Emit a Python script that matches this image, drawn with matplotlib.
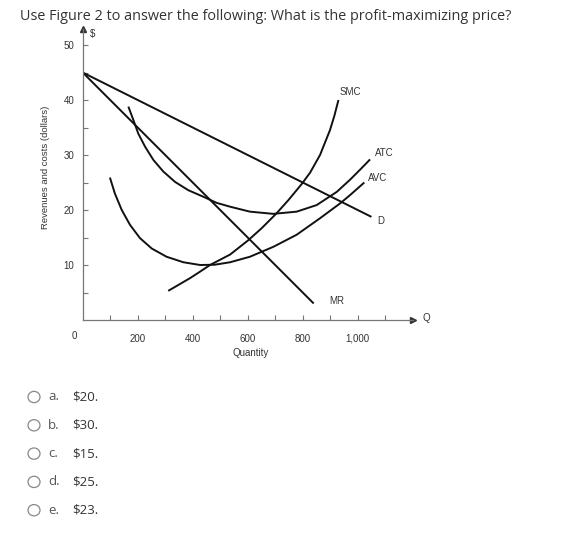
import matplotlib
matplotlib.use("Agg")
import matplotlib.pyplot as plt
from matplotlib.patches import Circle

W, H = 570, 535

# values (quantity, dollars)
d_q = [0, 1050]
d_p = [45, 18.75]

mr_q = [0, 840]
mr_p = [45, 3]

smc_q = [311, 390, 427, 463, 536, 602, 651, 705, 748, 796, 827, 863, 899, 915, 930]
smc_p = [5.3, 7.6, 8.8, 10.0, 11.9, 14.5, 16.7, 19.4, 21.8, 24.7, 26.8, 30.0, 34.5, 37.1, 40.0]

atc_q = [166, 184, 202, 227, 257, 293, 336, 384, 439, 487, 536, 608, 693, 778, 851, 924, 972, 1010, 1045]
atc_p = [38.8, 36.4, 33.9, 31.5, 29.1, 27.0, 25.1, 23.6, 22.4, 21.3, 20.6, 19.7, 19.3, 19.7, 20.9, 23.3, 25.5, 27.4, 29.2]

avc_q = [99, 117, 142, 172, 208, 251, 305, 366, 427, 480, 536, 608, 693, 778, 863, 936, 972, 1024]
avc_p = [25.9, 23.0, 20.0, 17.3, 14.9, 13.0, 11.5, 10.5, 10.0, 10.05, 10.5, 11.5, 13.3, 15.5, 18.5, 21.2, 22.7, 25.0]

x_ticks = [200, 400, 600, 800, 1000]
x_labels = ["200", "400", "600", "800", "1,000"]
y_ticks = [10, 20, 30, 40, 50]

question = "Use Figure 2 to answer the following: What is the profit-maximizing price?"
letters = ["a.", "b.", "c.", "d.", "e."]
answers = ["$20.", "$30.", "$15.", "$25.", "$23."]


def fx(x):
    return x / W


def fy(y):
    return 1 - y / H


fig = plt.figure(figsize=(W / 100, H / 100), dpi=100)
ax = fig.add_axes([fx(82.7), fy(320), 330 / W, 291.5 / H])
ax.set_xlim(0, 1200)
ax.set_ylim(0, 53)

line_kw = dict(color="#111111", lw=1.4, solid_capstyle="butt", solid_joinstyle="round")
ax.plot(d_q, d_p, **line_kw)
ax.plot(mr_q, mr_p, **line_kw)
ax.plot(smc_q, smc_p, **line_kw)
ax.plot(atc_q, atc_p, **line_kw)
ax.plot(avc_q, avc_p, **line_kw)

for s in ["top", "right"]:
    ax.spines[s].set_visible(False)
for s in ["left", "bottom"]:
    ax.spines[s].set_color("#777777")
    ax.spines[s].set_linewidth(0.9)

# arrow heads on the axes
ax.plot([1200], [0], marker=">", ms=4, color="#333333", clip_on=False)
ax.plot([0], [53], marker="^", ms=4, color="#333333", clip_on=False)

ax.set_xticks(x_ticks)
ax.set_xticklabels(x_labels)
ax.set_xticks(range(100, 1200, 100), minor=True)
ax.set_yticks(y_ticks)
ax.set_yticks(range(5, 50, 5), minor=True)
ax.tick_params(which="both", direction="in", length=3.5, width=0.8, color="#777777")
ax.tick_params(axis="x", pad=10, labelsize=7, labelcolor="#333333")
ax.tick_params(axis="y", pad=6, labelsize=7, labelcolor="#333333")
for lab in ax.get_xticklabels() + ax.get_yticklabels():
    lab.set_family("Liberation Sans")

sans = "Liberation Sans"
fs = 7
fig.text(fx(74), fy(336), "0", fontsize=fs, color="#333333", family=sans, ha="center", va="center")
fig.text(fx(251), fy(353), "Quantity", fontsize=fs, color="#333333", family=sans, ha="center", va="center")
fig.text(fx(45), fy(167), "Revenues and costs (dollars)", fontsize=6.8, color="#333333",
         family=sans, ha="center", va="center", rotation=90)
fig.text(fx(93), fy(34), "$", fontsize=fs, color="#333333", family=sans, ha="center", va="center")
fig.text(fx(426), fy(318), "Q", fontsize=fs, color="#333333", family=sans, ha="center", va="center")

curve_labels = [("SMC", 350, 92), ("ATC", 384, 153), ("AVC", 378, 178), ("D", 381, 221), ("MR", 337, 301)]
for txt, x, y in curve_labels:
    fig.text(fx(x), fy(y), txt, fontsize=fs, color="#333333", family=sans, ha="center", va="center")

fig.text(fx(20), fy(16), question, fontsize=10.4, color="#333333", family="Open Sans", ha="left", va="center")

for i, (l, a) in enumerate(zip(letters, answers)):
    y = 397 + i * 28.3
    fig.patches.append(Circle((fx(34), fy(y)), 6 / W, transform=fig.transFigure,
                              fill=False, edgecolor="#888888", lw=0.9))
    fig.text(fx(48), fy(y), l, fontsize=9.5, color="#555555", family="Open Sans", ha="left", va="center")
    fig.text(fx(72), fy(y), a, fontsize=9.5, color="#333333", family="Open Sans", ha="left", va="center")

fig.savefig("out.png", dpi=100)
